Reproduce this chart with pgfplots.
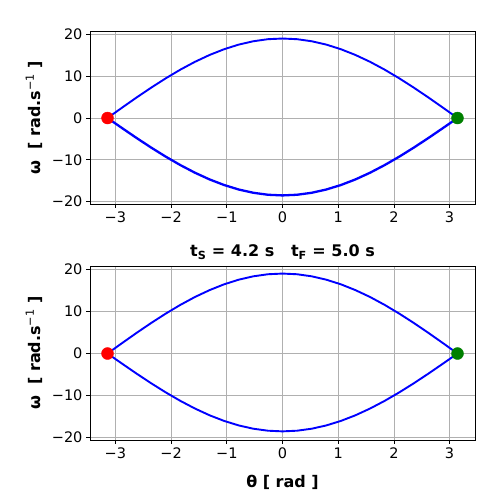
\documentclass[border=0pt]{standalone}
\usepackage{pgfplots}
\pgfplotsset{compat=1.18}
\usepackage{fontspec}
\setmainfont{DejaVu Sans}

% upper and lower branches of the phase trajectory
\pgfplotstableread{
th w
-3.1416 0
-2.8798 2.48
-2.6180 4.92
-2.3562 7.27
-2.0944 9.50
-1.8326 11.57
-1.5708 13.44
-1.3090 15.07
-1.0472 16.45
-0.7854 17.55
-0.5236 18.35
-0.2618 18.84
0 19.00
0.2618 18.84
0.5236 18.35
0.7854 17.55
1.0472 16.45
1.3090 15.07
1.5708 13.44
1.8326 11.57
2.0944 9.50
2.3562 7.27
2.6180 4.92
2.8798 2.48
3.1416 0
}\upbranch
\pgfplotstableread{
th w
3.1416 0
2.8798 -2.41
2.6180 -4.79
2.3562 -7.08
2.0944 -9.25
1.8326 -11.26
1.5708 -13.08
1.3090 -14.68
1.0472 -16.02
0.7854 -17.09
0.5236 -17.87
0.2618 -18.34
0 -18.50
-0.2618 -18.34
-0.5236 -17.87
-0.7854 -17.09
-1.0472 -16.02
-1.3090 -14.68
-1.5708 -13.08
-1.8326 -11.26
-2.0944 -9.25
-2.3562 -7.08
-2.6180 -4.79
-2.8798 -2.41
-3.1416 0
}\lowbranch

\pgfplotsset{
  phase/.style={
    scale only axis, width=385pt,
    xmin=-3.456, xmax=3.456, ymin=-20.55, ymax=20.8,
    xtick={-3,-2,-1,0,1,2,3},
    xticklabels={−3,−2,−1,0,1,2,3},
    ytick={-20,-10,0,10,20},
    yticklabels={−20,−10,0,10,20},
    tick align=outside, tick pos=left,
    major tick length=4pt,
    grid=major,
    major grid style={color=black!31, line width=0.8pt},
    axis line style={line width=0.8pt},
    tick style={black, line width=0.8pt},
    ticklabel style={font=\fontsize{14.5}{17}\selectfont},
    every axis y label/.style={at={(axis description cs:0,0.5)},xshift=-56pt,rotate=90,anchor=center,font=\bfseries\fontsize{16}{18}\selectfont},
    every axis x label/.style={at={(axis description cs:0.5,0)},yshift=-42pt,anchor=center,font=\bfseries\fontsize{16}{18}\selectfont},
    every axis title/.style={at={(axis description cs:0.5,1)},yshift=14pt,anchor=center,font=\bfseries\fontsize{16}{18}\selectfont},
    ylabel={ω\ \ [ rad.s\textsuperscript{\mdseries −1} ]},
  },
}

\begin{document}
\begin{tikzpicture}
\useasboundingbox (0,0) rectangle (500pt,500pt);
\begin{axis}[phase, at={(90pt,296pt)}, anchor=south west, height=173pt]
\addplot[blue, line width=1.9pt] table[x=th,y=w] {\upbranch};
\addplot[blue, line width=2.3pt] table[x=th,y=w] {\lowbranch};
\addplot[only marks, mark=*, mark size=6pt, red] coordinates {(-3.1416,0)};
\addplot[only marks, mark=*, mark size=6pt, green!50!black] coordinates {(3.1416,0)};
\end{axis}
\begin{axis}[phase, at={(90pt,60pt)}, anchor=south west, height=174pt,
  title={t\textsubscript{S} = 4.2 s\ \ \ t\textsubscript{F} = 5.0 s},
  xlabel={θ [ rad ]}]
\addplot[blue, line width=1.9pt] table[x=th,y=w] {\upbranch};
\addplot[blue, line width=1.9pt] table[x=th,y=w] {\lowbranch};
\addplot[only marks, mark=*, mark size=6pt, red] coordinates {(-3.1416,0)};
\addplot[only marks, mark=*, mark size=6pt, green!50!black] coordinates {(3.1416,0)};
\end{axis}
\end{tikzpicture}
\end{document}
